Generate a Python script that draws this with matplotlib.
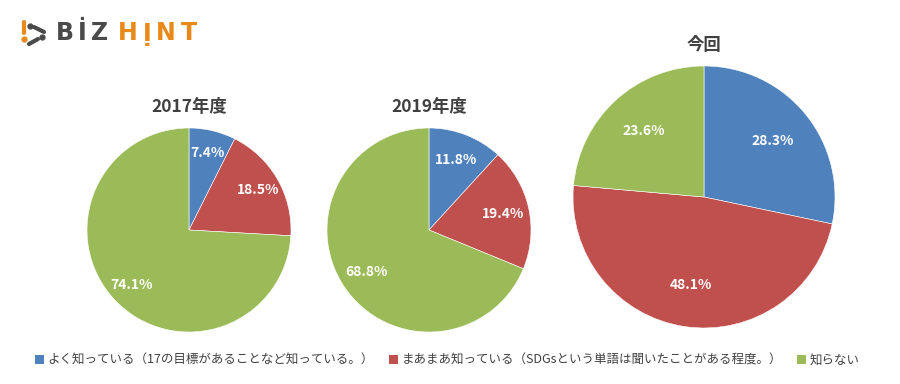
import matplotlib
matplotlib.use("Agg")
import matplotlib.pyplot as plt
from matplotlib.patches import Patch

plt.rcParams['font.family'] = ['Noto Sans CJK JP', 'DejaVu Sans']

# data
titles = ["2017年度", "2019年度", "今回"]
labels = ["よく知っている（17の目標があることなど知っている。）",
          "まあまあ知っている（SDGsという単語は聞いたことがある程度。）",
          "知らない"]
vals_2017 = [7.4, 18.5, 74.1]
vals_2019 = [11.8, 19.4, 68.8]
vals_now = [28.3, 48.1, 23.6]
colors = ['#4F81BD', '#C0504D', '#9BBB59']

H = 384
fig = plt.figure(figsize=(9, 3.84), dpi=100)
ax = fig.add_axes([0, 0, 1, 1])

# pie layout in pixel coords (x, y from top), radius, label distance, title y
pies = [
    (vals_2017, (189, 230), 102, 0.78, 107),
    (vals_2019, (429, 230), 102, 0.74, 107),
    (vals_now, (704, 197), 131, 0.68, 45),
]

for (vals, (cx, cy), r, pd, ty), title in zip(pies, titles):
    wedges, _, autotexts = ax.pie(vals, colors=colors, startangle=90, counterclock=False,
                                  center=(cx, H - cy), radius=r, autopct='%.1f%%',
                                  pctdistance=pd, frame=True,
                                  wedgeprops=dict(edgecolor='white', linewidth=0.4))
    for t in autotexts:
        t.set_color('white')
        t.set_fontweight('bold')
        t.set_fontsize(10)
    ax.text(cx, H - ty, title, ha='center', va='center', fontsize=12.5,
            fontweight='bold', color='#404040')

ax.set_xlim(0, 900)
ax.set_ylim(0, H)
ax.set_aspect('auto')
ax.set_axis_off()

# legend
handles = [Patch(facecolor=c, edgecolor='none') for c in colors]
fig.legend(handles, labels, loc='center', bbox_to_anchor=(0.497, 1 - 360 / H), ncol=3,
           frameon=False, fontsize=9, handlelength=0.7, handleheight=0.7,
           handletextpad=0.3, columnspacing=1.2, labelcolor='#404040')

# logo
ax.plot([23.5, 23.5], [H - 22, H - 33], color='#E8891A', lw=3, solid_capstyle='round')
ax.plot([23.5], [H - 39], 'o', color='#E8891A', ms=3.5)
ax.plot([30], [H - 26], 'o', color='#4A4A4A', ms=3.5)
ax.plot([34, 44], [H - 27, H - 32], color='#4A4A4A', lw=3, solid_capstyle='round')
ax.plot([29, 38], [H - 44, H - 39], color='#4A4A4A', lw=3, solid_capstyle='round')
ax.plot([42], [H - 37], 'o', color='#4A4A4A', ms=3.5)
logo = [("B", 65, '#4A4A4A'), ("İ", 82, '#4A4A4A'), ("Z", 100, '#4A4A4A'),
        ("H", 128, '#E8891A'), ("Ị", 147, '#E8891A'), ("N", 166, '#E8891A'),
        ("T", 189, '#E8891A')]
for ch, x, c in logo:
    ax.text(x, H - 33.5, ch, ha='center', va='center', fontsize=17, fontweight='bold',
            color=c, family='DejaVu Sans')

fig.savefig("out.png", dpi=100, facecolor='white')
